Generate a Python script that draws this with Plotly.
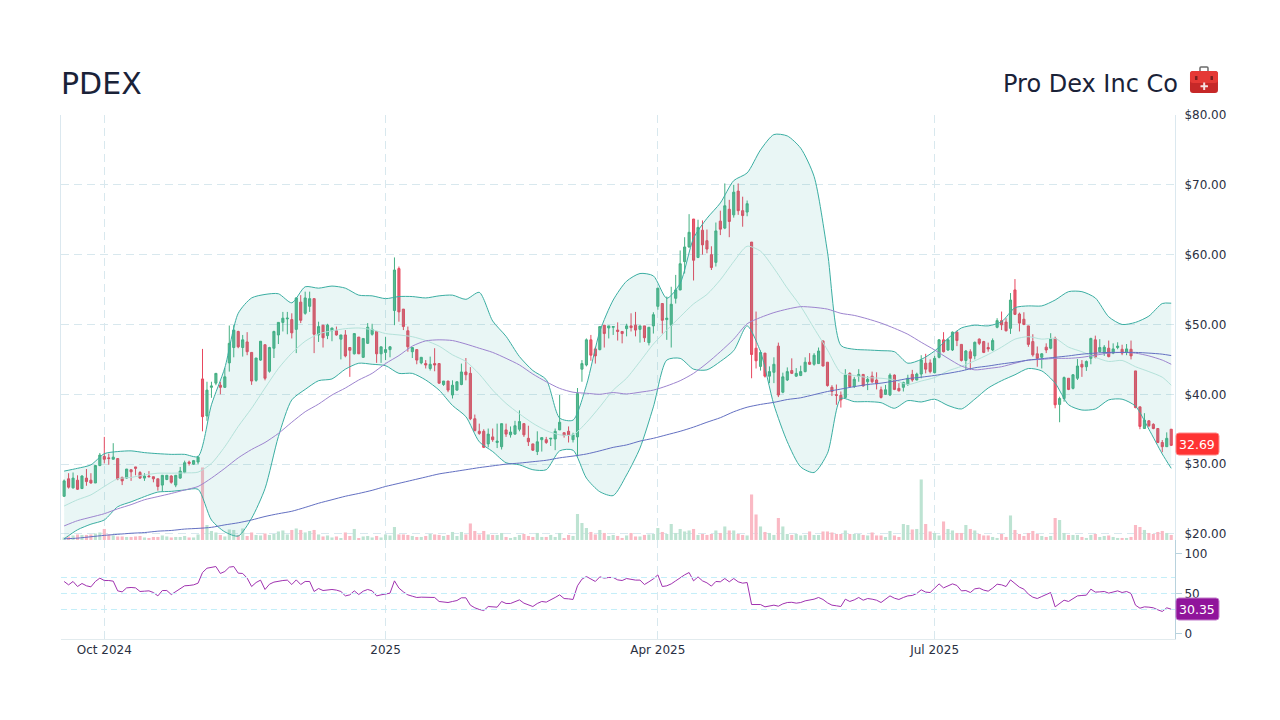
import plotly.graph_objects as go
from plotly.subplots import make_subplots

ticker = "PDEX"
company = "Pro Dex Inc Co"
last_close = "32.69"
last_rsi = "30.35"

tick_index = [9, 72, 133, 195]
tick_labels = ["Oct 2024", "2025", "Apr 2025", "Jul 2025"]
price_ticks = [20, 30, 40, 50, 60, 70, 80]
rsi_ticks = [0, 50, 100]
rsi_levels = [30, 50, 70]

open_px = [25.4,27.9,26.6,27.7,26.5,28.0,27.7,27.3,29.8,31.1,
    30.9,30.7,30.8,28.1,28.0,29.2,29.6,28.8,28.0,28.3,
    28.2,27.9,27.0,27.8,28.3,27.0,28.0,28.8,30.3,30.0,
    30.3,42.2,36.9,41.0,41.6,41.3,41.0,44.5,46.7,49.0,
    46.7,47.5,46.0,42.0,44.9,47.1,43.3,46.6,48.5,50.3,
    50.8,50.7,49.3,53.2,51.6,52.6,53.7,48.5,49.9,48.4,
    49.1,49.1,47.9,48.5,46.7,45.8,48.2,45.3,47.3,48.6,
    49.0,45.8,46.0,46.4,52.0,58.0,52.2,49.1,46.1,46.4,
    44.5,44.4,43.7,44.4,44.4,41.4,41.9,39.9,40.6,41.4,
    43.2,43.0,36.5,34.7,34.7,32.9,33.9,33.1,32.5,34.9,
    34.2,34.3,35.0,35.8,33.7,32.9,31.8,33.5,33.5,33.6,
    33.6,34.9,34.5,34.7,33.5,33.9,43.6,44.2,47.8,46.5,
    46.4,49.9,49.5,49.6,49.2,49.0,49.4,49.8,49.9,49.3,
    49.8,47.4,49.8,52.6,53.0,50.7,49.9,53.75,54.95,59.0,
    61.1,65.1,59.6,63.5,62.0,60.0,58.9,64.8,63.8,66.5,
    65.7,69.1,66.3,66.1,61.8,46.6,44.0,45.9,42.6,43.15,
    46.9,40.3,42.05,43.4,42.6,42.7,43.25,44.6,44.3,44.4,
    47.65,44.6,41.0,39.95,39.85,39.55,43.0,41.1,42.6,42.85,
    41.8,42.6,42.05,40.65,40.0,39.9,42.75,40.85,41.0,41.4,
    42.85,42.05,42.9,44.45,44.5,43.1,45.3,47.8,46.35,46.35,
    48.9,47.15,44.85,46.1,45.5,47.9,47.55,46.7,46.35,49.6,
    50.55,50.35,49.45,54.95,51.5,50.75,49.8,47.55,45.8,45.3,
    46.75,46.6,48.0,38.55,39.4,42.3,40.85,42.3,44.3,43.95,
    45.15,47.8,46.1,45.9,46.6,45.9,46.7,46.45,46.0,46.45,
    43.35,38.2,35.1,36.2,35.7,35.1,33.1,32.5,35.0]

high_px = [27.8,28.7,28.8,28.4,28.4,29.3,28.7,29.9,31.6,33.9,
    31.5,33.0,30.8,28.2,29.3,29.2,29.6,29.0,28.7,29.0,
    28.2,27.9,28.4,28.4,28.4,28.4,29.6,30.5,30.5,30.6,
    31.2,46.5,41.8,41.8,43.0,41.8,43.8,49.85,49.9,49.1,
    48.5,48.9,46.0,45.2,47.6,47.1,46.8,49.1,50.3,51.8,
    51.8,51.6,53.9,54.2,54.7,54.7,53.7,50.4,49.9,50.1,
    49.5,49.7,48.5,49.2,46.7,48.7,48.2,48.0,50.2,50.1,
    49.0,46.8,48.2,46.9,59.6,58.3,52.2,49.7,46.7,46.4,
    45.3,44.9,45.4,46.6,44.4,41.9,41.9,42.0,41.8,44.4,
    45.2,43.9,37.1,35.8,35.0,35.1,35.1,35.8,35.8,35.8,
    35.4,36.2,37.7,35.8,35.5,32.9,34.7,33.8,33.9,33.7,
    35.1,39.9,34.5,35.4,34.5,40.9,44.9,48.0,48.5,46.8,
    49.7,49.9,49.8,49.7,50.3,49.0,50.1,51.6,51.8,49.8,
    49.8,49.6,51.75,55.2,53.0,54.0,55.4,57.1,60.6,62.5,
    65.8,65.1,65.0,64.9,63.6,61.2,64.6,66.3,70.2,67.85,
    70.0,70.2,68.3,67.75,61.8,51.85,46.3,45.9,44.0,45.3,
    47.4,43.1,43.85,45.15,43.75,44.1,45.3,45.9,45.9,46.7,
    47.65,44.6,41.3,41.4,40.4,43.6,43.15,42.5,43.6,42.85,
    42.6,43.25,43.15,41.1,41.35,43.0,42.85,41.6,41.8,42.8,
    43.5,43.1,45.6,45.8,45.0,45.5,47.9,48.9,48.0,49.0,
    49.1,47.15,46.35,46.45,47.55,48.0,47.65,47.4,48.0,50.9,
    51.85,50.9,54.5,56.5,51.7,51.75,49.8,48.6,46.85,45.9,
    47.3,48.75,48.25,39.65,42.55,42.3,42.9,45.05,44.9,44.85,
    48.1,48.4,47.9,47.05,47.7,47.3,47.45,47.1,47.2,47.7,
    43.35,38.2,37.3,36.3,35.85,35.1,33.45,34.55,35.0]

low_px = [25.3,26.5,26.5,26.3,26.5,26.9,27.2,27.3,29.7,30.1,
    29.9,30.7,27.7,27.0,27.9,27.6,28.4,27.9,27.6,28.1,
    27.4,26.2,26.1,27.7,27.2,26.7,27.9,28.7,29.8,29.9,
    30.0,34.7,36.2,39.5,41.3,40.0,40.9,43.25,45.3,46.6,
    45.4,45.6,41.35,41.8,44.8,42.0,43.1,45.2,47.2,49.0,
    48.6,48.0,45.9,50.2,51.4,51.8,45.9,47.5,46.7,47.9,
    47.6,48.4,45.0,45.3,42.5,45.7,45.8,45.2,47.2,48.4,
    44.5,44.5,44.9,45.3,49.9,50.4,49.2,46.1,45.2,44.3,
    44.3,43.7,43.4,43.3,41.5,41.2,40.3,39.4,40.5,41.3,
    42.0,36.3,34.7,34.2,32.3,32.4,33.2,32.3,32.1,33.9,
    33.8,34.2,34.7,33.9,32.6,31.9,31.3,31.8,32.9,32.6,
    32.0,34.9,33.8,33.1,33.1,31.1,41.8,44.0,44.8,44.4,
    46.3,46.7,48.0,48.5,47.7,47.3,48.3,49.0,48.3,47.4,
    47.5,47.0,48.7,52.1,48.7,47.8,46.7,53.0,54.9,57.3,
    61.0,56.3,59.5,60.0,60.2,57.8,58.3,62.8,63.65,62.5,
    65.3,65.7,64.0,65.5,42.3,43.7,43.4,42.4,41.6,41.6,
    39.6,40.15,41.9,42.9,42.5,42.6,43.15,44.2,44.1,44.35,
    44.0,41.1,39.75,38.5,38.1,39.4,41.0,40.9,41.8,41.1,
    40.6,41.6,40.7,39.4,39.9,39.75,40.6,40.4,40.4,41.2,
    41.8,42.0,42.3,43.0,43.0,43.0,45.15,46.0,46.2,46.2,
    46.9,44.7,43.5,43.5,45.0,47.05,45.9,46.1,46.2,49.45,
    49.2,49.0,48.65,51.35,49.0,49.9,46.8,45.4,43.95,43.7,
    45.9,46.45,38.0,36.0,38.95,40.6,40.7,42.05,42.5,43.35,
    44.3,45.15,46.0,45.5,45.3,45.75,46.45,45.6,45.6,45.0,
    38.0,35.0,35.1,35.3,35.0,33.0,31.7,32.5,32.6]

close_px = [27.6,26.7,28.0,26.4,28.3,27.5,27.3,29.8,31.3,30.7,
    30.8,31.0,27.9,27.6,29.3,28.9,29.4,28.0,28.3,28.2,
    27.9,26.8,28.4,28.4,27.4,28.4,29.0,30.2,30.1,30.5,
    31.0,36.8,40.6,41.2,43.0,41.0,42.5,47.3,49.2,46.8,
    47.8,46.1,41.9,45.2,47.6,42.3,46.7,49.0,50.3,50.9,
    50.9,48.8,53.8,50.6,53.8,53.7,48.6,49.7,48.1,49.9,
    49.5,48.5,48.5,45.5,46.3,48.7,45.8,48.0,49.6,49.3,
    45.8,46.8,46.4,46.8,57.8,51.8,49.7,46.8,46.7,44.9,
    45.3,44.2,44.3,44.2,41.6,41.9,40.6,41.3,41.8,43.2,
    42.8,36.5,34.8,34.4,32.4,34.3,33.5,33.3,35.8,34.3,
    34.6,35.5,36.1,34.2,33.2,32.0,33.2,33.8,33.1,33.7,
    34.7,36.0,34.1,34.2,34.2,40.1,44.4,47.8,45.6,45.5,
    49.7,48.7,49.8,49.7,49.0,48.7,49.8,49.55,49.2,49.8,
    48.1,49.6,51.4,55.2,50.6,50.9,52.9,54.95,58.7,61.1,
    63.2,59.2,63.9,61.4,60.8,58.15,63.4,63.65,67.0,64.75,
    68.95,66.3,65.6,67.3,45.7,44.8,46.0,42.6,43.25,44.3,
    39.9,42.5,43.25,43.0,43.0,43.25,44.6,44.3,45.6,46.2,
    44.05,41.25,40.4,39.85,39.2,42.75,41.1,42.15,42.85,41.2,
    42.15,41.8,41.5,39.55,40.65,42.75,40.7,40.5,41.7,42.3,
    42.05,42.9,44.9,43.6,43.25,45.15,47.8,46.1,47.8,48.9,
    47.7,44.85,46.2,45.15,47.45,47.3,46.0,46.5,47.7,50.55,
    49.95,49.1,53.5,51.45,50.2,50.0,47.15,45.65,45.15,45.8,
    46.35,47.9,38.5,39.4,42.4,40.7,42.8,44.05,43.9,44.7,
    48.0,45.3,46.7,46.75,45.4,46.5,46.9,45.9,46.5,45.5,
    38.1,35.4,36.3,35.5,35.1,33.1,32.5,33.7,32.69]

# thousand shares
volume = [5,7,9,11,10,10,11,13,15,22,
    11,9,7,7,6,6,7,8,5,4,
    6,6,9,7,5,6,6,8,5,5,
    11,145,30,18,15,10,7,21,20,10,
    23,8,15,10,9,13,10,12,17,19,
    11,20,23,20,15,18,20,11,7,9,
    5,7,3,15,8,22,3,7,8,5,
    8,5,11,9,26,11,11,10,8,6,
    6,8,12,11,10,8,10,16,8,16,
    11,33,18,11,18,11,10,10,14,6,
    4,6,10,12,8,6,14,6,6,10,
    6,14,3,10,8,52,34,24,16,11,
    20,14,8,10,8,4,9,14,7,7,
    10,11,12,24,16,12,32,14,22,17,
    19,22,10,12,10,12,19,14,27,19,
    19,12,10,9,91,51,27,16,14,10,
    44,27,12,10,12,9,10,17,10,10,
    17,17,15,12,12,19,12,12,12,10,
    9,15,9,9,6,18,9,6,32,30,
    21,22,121,32,17,14,9,37,22,19,
    14,14,30,22,19,12,9,9,6,4,
    12,6,49,20,12,8,14,18,12,8,
    6,8,44,40,14,10,10,10,6,4,
    10,12,6,8,9,6,4,4,4,6,
    30,26,20,14,12,16,18,14,10]

rsi = [65,60.8,65,58.7,62.5,59.6,58.3,65,69.2,66.2,
    66.2,65.4,53.3,52,57,57.5,57,52.5,52.9,53.3,
    51.2,47,53.7,53.7,48.7,52,56.2,59.6,60,60.8,
    62.9,76.2,81.6,82.9,83.7,75,77.5,82.9,83.7,75.4,
    75,69.2,58.7,63.7,66.7,55,61.6,64.2,65.4,66.2,
    66.7,61.2,67,61.2,65,65,52.5,56.2,53.7,54.6,
    55,54.2,52.5,47,48.3,53.3,48.7,52.9,55,53.3,
    47,48.3,49.2,50.4,65.8,56.7,52,48.3,46.6,45,
    45.4,45.2,45,45,40,39.6,38.7,40,41.2,44.6,
    44.6,35.4,32.1,30,28.7,33.7,32.9,32.9,40,37.5,
    37.5,40,42,37.9,35.4,33.7,37.5,40,39.2,41.6,
    45,48.3,43.7,43.3,42.5,59.6,67.9,71.2,67.9,65,
    70.8,69.2,70,70,67,66.2,68.7,67.5,66.7,66.7,
    61.2,64.6,68.3,73.3,58.7,59.6,62,65.8,70,73.3,
    76.2,65.8,70.8,65.8,63.3,59.2,65,64.6,68.7,64.6,
    68.7,64.6,62.9,63.7,36.2,36.2,36.2,33.3,34.1,35.4,
    34.1,37,38.7,39,37.9,38.7,40.8,41.6,42.9,45,
    42.5,38.3,35.4,34.6,33.7,42.9,40,42,45,41.6,
    43.7,42.9,41.6,38.7,42.5,47,44.1,42.5,45,47,
    47.5,50,54.6,51.7,51.2,56.7,62,57,59.2,62,
    60,53.3,53.7,51.2,55.8,56.7,54.2,52.9,56.7,61.6,
    60.8,58.7,67,62.5,57.9,55.4,49.2,45.4,43.7,46.2,
    48.7,51.2,33.3,37.5,41.6,40,43.3,47,47.5,47.9,
    55.4,51.7,52,52.5,50.4,52,53.3,51.2,52.5,50,
    35.4,31.6,33.3,32.9,32.1,29.6,27.5,32.1,30.35]

# band and average lines were read every third session
line_index = list(range(0, 249, 3)) + [248]

bb_upper = [29.0,29.4,29.9,31.5,31.8,31.9,31.65,31.5,31.4,31.4,
    31.1,38.5,43.8,51.6,53.8,54.3,54.4,53.1,55.4,55.2,
    55.5,55.2,54.2,54.1,53.7,54.0,54.0,53.8,54.1,54.2,
    53.6,54.6,50.5,48.3,45.4,43.4,42.1,36.6,36.3,41.3,
    49.0,53.5,56.2,57.3,56.96,53.75,55.9,62.35,65.2,67.4,
    70.6,71.7,75.0,77.2,77.0,75.25,71.2,60.4,47.0,46.45,
    46.35,46.25,46.1,44.45,45.0,46.2,48.0,49.5,49.9,49.8,
    50.4,52.4,52.66,52.66,53.5,54.7,54.7,53.8,51.1,50.0,
    50.3,51.2,53.0,53.05]

bb_lower = [19.3,20.6,21.4,22.0,23.9,24.6,25.35,26.0,26.1,26.3,
    26.4,22.0,20.3,19.7,22.25,26.5,33.95,39.2,40.7,41.95,
    42.2,43.6,44.45,44.3,44.1,43.0,43.0,42.05,40.6,38.4,
    36.8,33.2,31.8,30.2,29.9,29.2,29.2,31.9,32.0,28.0,
    26.05,25.5,28.45,32.3,38.2,44.9,45.15,43.6,43.5,44.7,
    46.25,49.8,46.1,38.5,33.2,29.6,28.8,31.55,39.4,38.95,
    38.95,38.8,38.0,39.1,38.9,39.3,38.4,37.9,39.3,40.9,
    41.95,42.8,43.7,43.35,41.6,38.5,37.75,37.9,39.2,39.3,
    38.3,35.0,31.45,29.4]

bb_mid = [24.0,24.9,25.6,26.8,27.9,28.1,28.45,28.7,28.7,28.75,
    28.85,30.1,32.5,35.4,38.0,40.9,43.7,45.9,47.6,48.65,
    49.1,49.4,49.5,49.25,48.7,48.5,48.25,47.7,46.9,45.65,
    44.7,42.9,40.6,38.7,37.2,35.85,34.8,34.2,34.2,35.95,
    38.2,40.6,42.3,44.7,47.2,49.2,51.1,52.95,54.3,56.4,
    59.0,61.2,60.5,58.05,55.2,52.6,49.45,46.35,43.1,42.7,
    42.4,42.3,42.05,41.4,41.9,42.4,43.35,44.0,44.8,45.7,
    46.75,47.9,48.25,47.9,48.0,46.75,46.1,45.3,44.7,44.85,
    43.95,43.25,42.45,41.3]

sma_50 = [21.15,21.9,22.4,22.9,23.6,24.2,24.9,25.35,25.8,26.3,
    26.8,28.0,29.4,30.9,32.1,33.1,34.4,36.0,37.5,38.6,
    39.9,40.9,42.05,43.0,44.4,45.55,46.9,47.65,47.8,47.7,
    47.2,46.6,46.0,45.15,44.2,42.9,41.8,40.85,40.3,40.15,
    40.0,40.25,40.05,40.3,40.6,41.2,41.95,43.0,44.45,46.1,
    47.9,50.1,51.0,51.7,52.2,52.55,52.45,52.2,51.6,51.3,
    50.8,50.2,49.45,48.6,47.45,46.35,45.15,44.05,43.5,43.7,
    43.95,44.45,44.9,45.0,45.15,45.15,45.3,45.6,45.9,46.0,
    45.9,45.5,44.9,44.3]

sma_200 = [19.3,19.4,19.6,19.8,19.95,20.1,20.2,20.4,20.5,20.7,
    20.8,20.95,21.3,21.6,22.0,22.5,22.9,23.25,23.8,24.4,
    24.9,25.4,25.8,26.25,26.8,27.25,27.7,28.15,28.6,28.9,
    29.2,29.5,29.75,30.0,30.15,30.35,30.55,30.9,31.15,31.45,
    31.9,32.4,32.75,33.3,33.7,34.2,34.7,35.3,36.0,36.65,
    37.5,38.15,38.55,38.85,39.25,39.5,39.95,40.4,40.75,41.1,
    41.4,41.6,41.9,42.25,42.45,42.7,43.0,43.35,43.8,44.05,
    44.35,44.6,44.9,45.1,45.3,45.5,45.75,45.9,46.0,46.0,
    46.0,45.9,45.75,45.55]

candle_index = list(range(len(close_px)))


def paper_x(px):
    return (px - 60.5) / 1114.5


def paper_y(py):
    return (639 - py) / 524


def rounded_box(x0, y0, x1, y1, r):
    xa, xb, xc, xd = paper_x(x0), paper_x(x0 + r), paper_x(x1 - r), paper_x(x1)
    ya, yb, yc, yd = paper_y(y0), paper_y(y0 + r), paper_y(y1 - r), paper_y(y1)
    return (f"M {xb} {ya} L {xc} {ya} Q {xd} {ya} {xd} {yb} L {xd} {yc} Q {xd} {yd} {xc} {yd} "
            f"L {xb} {yd} Q {xa} {yd} {xa} {yc} L {xa} {yb} Q {xa} {ya} {xb} {ya} Z")


def curve(color):
    return dict(color=color, width=1, shape="spline", smoothing=0.7)


fig = make_subplots(
    rows=2,
    cols=1,
    row_heights=[0.811, 0.189],
    shared_xaxes=True,
    vertical_spacing=0,
    specs=[[{"secondary_y": True}], [{}]],
)

# volume sits on the hidden primary axis, under everything else
vol_colors = ["#bde3d2" if c >= o else "#fab9c4" for o, c in zip(open_px, close_px)]
fig.add_trace(
    go.Bar(x=candle_index, y=volume, marker=dict(color=vol_colors, line=dict(width=0))),
    row=1, col=1, secondary_y=False,
)

fig.add_trace(
    go.Scatter(x=line_index, y=bb_upper, mode="lines", line=curve("#3aaea2")),
    row=1, col=1, secondary_y=True,
)
fig.add_trace(
    go.Scatter(x=line_index, y=bb_lower, mode="lines", line=curve("#3aaea2"),
               fill="tonexty", fillcolor="rgba(38,166,154,0.1)"),
    row=1, col=1, secondary_y=True,
)
fig.add_trace(
    go.Scatter(x=line_index, y=bb_mid, mode="lines", line=curve("#b4e2da")),
    row=1, col=1, secondary_y=True,
)
fig.add_trace(
    go.Candlestick(
        x=candle_index, open=open_px, high=high_px, low=low_px, close=close_px,
        increasing=dict(line=dict(color="#45b083", width=1), fillcolor="#5bb994"),
        decreasing=dict(line=dict(color="#e8485f", width=1), fillcolor="#dc6272"),
    ),
    row=1, col=1, secondary_y=True,
)
fig.add_trace(
    go.Scatter(x=line_index, y=sma_50, mode="lines", line=curve("#9d84cf")),
    row=1, col=1, secondary_y=True,
)
fig.add_trace(
    go.Scatter(x=line_index, y=sma_200, mode="lines", line=curve("#6370c2")),
    row=1, col=1, secondary_y=True,
)
fig.add_trace(
    go.Scatter(x=candle_index, y=rsi, mode="lines", line=dict(color="#a032b0", width=1)),
    row=2, col=1,
)

for level in rsi_levels:
    fig.add_hline(y=level, line=dict(color="#c4eef8", width=1, dash="6px,4px"), row=2, col=1)

fig.update_xaxes(
    domain=[0, 1],
    range=[-0.7, 248.85],
    tickmode="array",
    tickvals=tick_index,
    ticktext=tick_labels,
    ticks="",
    showgrid=True,
    gridcolor="#d8e8ee",
    griddash="8px,5px",
    gridwidth=1,
    zeroline=False,
    automargin=False,
    rangeslider_visible=False,
    tickfont=dict(size=12, color="#2a3042"),
)
fig.update_xaxes(showline=True, linecolor="#e2ebee", linewidth=1, row=2, col=1)

fig.update_yaxes(visible=False, range=[0, 850], showgrid=False, row=1, col=1, secondary_y=False)
fig.update_yaxes(
    side="right",
    range=[19.14, 80.0],
    tickmode="array",
    tickvals=price_ticks,
    ticktext=[f"${t:.2f}" for t in price_ticks],
    ticks="outside",
    ticklen=6,
    tickcolor="rgba(0,0,0,0)",
    showgrid=True,
    gridcolor="#d8e8ee",
    griddash="8px,5px",
    zeroline=False,
    automargin=False,
    showline=True,
    linecolor="#dbe8ef",
    mirror=True,
    tickfont=dict(size=12, color="#2a3042"),
    row=1, col=1, secondary_y=True,
)
fig.update_yaxes(
    side="right",
    range=[-6.9, 116.9],
    tickmode="array",
    tickvals=rsi_ticks,
    ticks="outside",
    ticklen=6,
    tickcolor="#b8d2dd",
    showgrid=False,
    zeroline=False,
    automargin=False,
    showline=True,
    linecolor="#b8d2dd",
    tickfont=dict(size=12, color="#2a3042"),
    row=2, col=1,
)

shapes = [
    # value badges
    dict(path=rounded_box(1176, 433, 1219, 455, 3), fillcolor="#ff3333", line=dict(color="#ff8a8a", width=1)),
    dict(path=rounded_box(1176, 598, 1219, 620, 3), fillcolor="#90149b", line=dict(color="#c27acb", width=1)),
    # medical kit icon
    dict(path=rounded_box(1200, 67, 1208, 73, 1), fillcolor="rgba(0,0,0,0)", line=dict(color="#6b6b6b", width=1.5)),
    dict(path=rounded_box(1190, 71, 1218, 93, 3), fillcolor="#c62828", line=dict(width=0)),
    dict(path=rounded_box(1190, 71, 1218, 83, 3), fillcolor="#e53935", line=dict(width=0)),
    dict(path=rounded_box(1195, 76, 1197.5, 80, 0.5), fillcolor="#7a2020", line=dict(width=0)),
    dict(path=rounded_box(1210.5, 76, 1213, 80, 0.5), fillcolor="#7a2020", line=dict(width=0)),
    dict(path=rounded_box(1203.2, 82.5, 1205.2, 90, 0.3), fillcolor="#f5e0e0", line=dict(width=0)),
    dict(path=rounded_box(1200.5, 85.2, 1208, 87.2, 0.3), fillcolor="#f5e0e0", line=dict(width=0)),
]
for s in shapes:
    fig.add_shape(xref="paper", yref="paper", layer="above", type="path", **s)

annotations = [
    dict(x=paper_x(59), y=paper_y(83.5), text=ticker, xanchor="left", font=dict(size=30, color="#1a2238")),
    dict(x=paper_x(1179), y=paper_y(83.5), text=company, xanchor="right", font=dict(size=24, color="#1a2238")),
    dict(x=paper_x(1197), y=paper_y(444.5), text=last_close, xanchor="center", font=dict(size=12.5, color="white")),
    dict(x=paper_x(1197), y=paper_y(609.5), text=last_rsi, xanchor="center", font=dict(size=12.5, color="white")),
]
for a in annotations:
    fig.add_annotation(xref="paper", yref="paper", yanchor="middle", showarrow=False, borderpad=0, **a)

fig.update_layout(
    width=1280,
    height=720,
    margin=dict(l=60.5, r=105, t=115, b=81, autoexpand=False),
    paper_bgcolor="white",
    plot_bgcolor="white",
    font=dict(family="DejaVu Sans"),
    showlegend=False,
    bargap=0.3,
    boxgap=0.33,
)

fig.write_html("out.html", config=dict(displayModeBar=False), post_script="document.body.style.margin='0';")
